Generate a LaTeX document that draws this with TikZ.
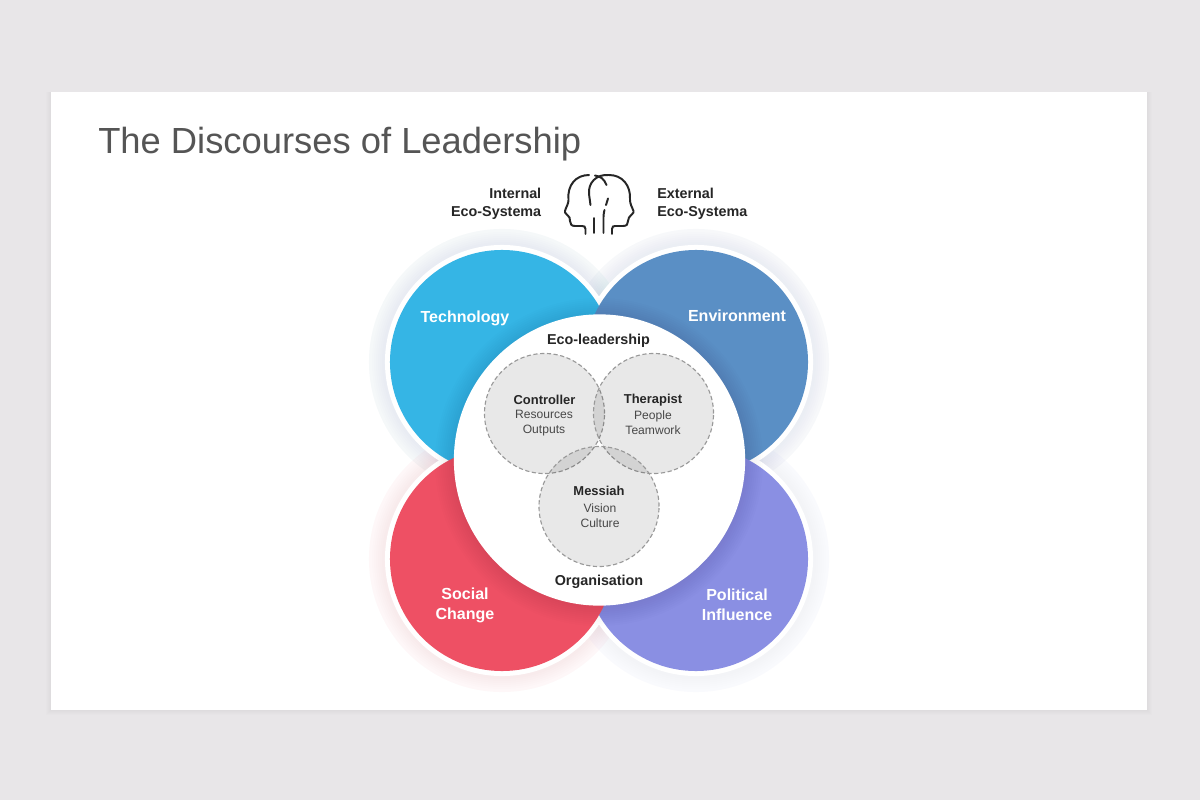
\documentclass[tikz,border=0pt]{standalone}
\usepackage{fontspec}
\setmainfont{Liberation Sans}
\definecolor{pagegrey}{HTML}{E8E6E8}
\definecolor{titlegrey}{HTML}{555555}
\definecolor{inktext}{HTML}{262626}
\definecolor{softtext}{HTML}{484848}
\definecolor{techblue}{HTML}{35B5E5}
\definecolor{envblue}{HTML}{5A8FC5}
\definecolor{socialred}{HTML}{EE5064}
\definecolor{politicalviolet}{HTML}{8A8FE3}
\tikzset{
	petalring/.style={circle, fill=white, minimum size=5.85cm, inner sep=0pt, outer sep=0pt},
	petal/.style={circle, minimum size=5.6cm, inner sep=0pt, outer sep=0pt},
	team/.style={circle, draw=black!40, dash pattern=on 3pt off 1.8pt, line width=.8pt, fill=black, fill opacity=.09, minimum size=3cm, inner sep=0pt},
	petaltext/.style={text=white, font=\fontsize{11.4}{14.2}\selectfont\bfseries, align=center},
	headtext/.style={text=inktext, font=\fontsize{10.2}{12.8}\selectfont\bfseries, align=center, inner sep=0pt},
	teamhead/.style={text=inktext, font=\fontsize{9.2}{11}\selectfont\bfseries},
	teamtext/.style={text=softtext, font=\fontsize{8.6}{10.9}\selectfont, align=center},
	headline/.style={draw=inktext, line width=1.4pt, line cap=round}
}
\begin{document}
\begin{tikzpicture}[x=.025cm, y=-.025cm]
			%%%	Page and card
			\useasboundingbox (0,0) rectangle (1200,800);
			\fill[pagegrey] (0,0) rectangle (1200,800);
			\foreach \s in {1,...,5}
			\fill[black, opacity=.006] (51-\s,92) rectangle (1147+\s,710+\s);
			\fill[white] (51,92) rectangle (1147,710);
			\node[anchor=base west, text=titlegrey, font=\fontsize{25.85}{30}\selectfont, inner sep=0pt] (title) at (98,154) {The Discourses of Leadership};
			%%%	Halos
			\foreach \px/\py/\col in {502/362/techblue!60!black, 696/362/envblue!80!black, 502/559/socialred, 696/559/politicalviolet}{
			\fill[\col, opacity=.045] (\px,\py) circle (3.325cm);
			\foreach \r in {3,3.05,...,3.3}
			\fill[\col, opacity=.009] (\px,\py) circle (\r cm);
			}
			%%%	Petals
			\node[petalring] (technologyring) at (502,362) {};
			\node[petalring] (environmentring) at (696,362) {};
			\node[petalring] (socialring) at (502,559) {};
			\node[petalring] (politicalring) at (696,559) {};
			\node[petal, fill=techblue] (technology) at (502,362) {};
			\node[petal, fill=envblue] (environment) at (696,362) {};
			\node[petal, fill=politicalviolet] (political) at (696,559) {};
			\node[petal, fill=socialred] (social) at (502,559) {};
			\node[petaltext] (technologytext) at (465,318) {Technology};
			\node[petaltext] (environmenttext) at (737,316) {Environment};
			\node[petaltext] (socialtext) at (465,605) {Social\\Change};
			\node[petaltext] (politicaltext) at (737,605) {Political\\Influence};
			%%%	Shadow of the middle disc
			\foreach \r in {3.65,3.7,...,4.15}
			\fill[black, opacity=.009] (599,462) circle (\r cm);
			%%%	Middle disc
			\node[circle, fill=white, minimum size=7.28cm, inner sep=0pt, outer sep=0pt] (eco) at (599.5,460) {};
			\node[headtext] (ecotext) at (598.5,341) {Eco-leadership};
			\node[headtext] (orgtext) at (599,582) {Organisation};
			%%%	Three circles
			\node[team] (controller) at (544.5,413.5) {};
			\node[team] (therapist) at (653.5,413.5) {};
			\node[team] (messiah) at (599,506.5) {};
			\node[teamhead] (controllerhead) at (544.5,400) {Controller};
			\node[teamtext] (controllertext) at (544,423) {Resources\\Outputs};
			\node[teamhead] (therapisthead) at (653,400.5) {Therapist};
			\node[teamtext] (therapisttext) at (653,423) {People\\Teamwork};
			\node[teamhead] (messiahhead) at (599,491) {Messiah};
			\node[teamtext] (messiahtext) at (600,516) {Vision\\Culture};
			%%%	Top labels and heads
			\node[headtext, align=right, anchor=east] (internal) at (541.5,204) {Internal\\Eco-Systema};
			\node[headtext, align=left, anchor=west] (external) at (657,204) {External\\Eco-Systema};
			\draw[headline] (585.5,234) -- (585.5,229) .. controls (585.5,226.5) and (584,226) .. (582,226) -- (575,226) .. controls (571,226) and (570.5,224) .. (570,221) -- (569.5,217.5) -- (565,212.5) -- (565,211) .. controls (566,207) and (568.5,204) .. (568.5,200) .. controls (567,185) and (576,175) .. (589,175);
			\draw[headline] (595,175.5) .. controls (601,176.5) and (604,179) .. (606.5,185);
			\draw[headline] (612,234) -- (612,229) .. controls (612,226.5) and (613.5,226) .. (615,226) -- (623,226) .. controls (627,226) and (628,224) .. (628,221) -- (629,217.5) -- (633.5,212.5) -- (633.5,211) .. controls (632,207) and (630,204) .. (630,200) .. controls (631,185) and (622,175) .. (609,175) .. controls (596,174) and (588,183) .. (589,194) -- (590.5,205);
			\draw[headline] (593.7,218) -- (593.7,233);
			\draw[headline] (603.5,233) -- (603.5,217) .. controls (603.5,214) and (604,212) .. (604.5,210);
			\draw[headline] (606,205) -- (608,198.5);
\end{tikzpicture}
\end{document}
